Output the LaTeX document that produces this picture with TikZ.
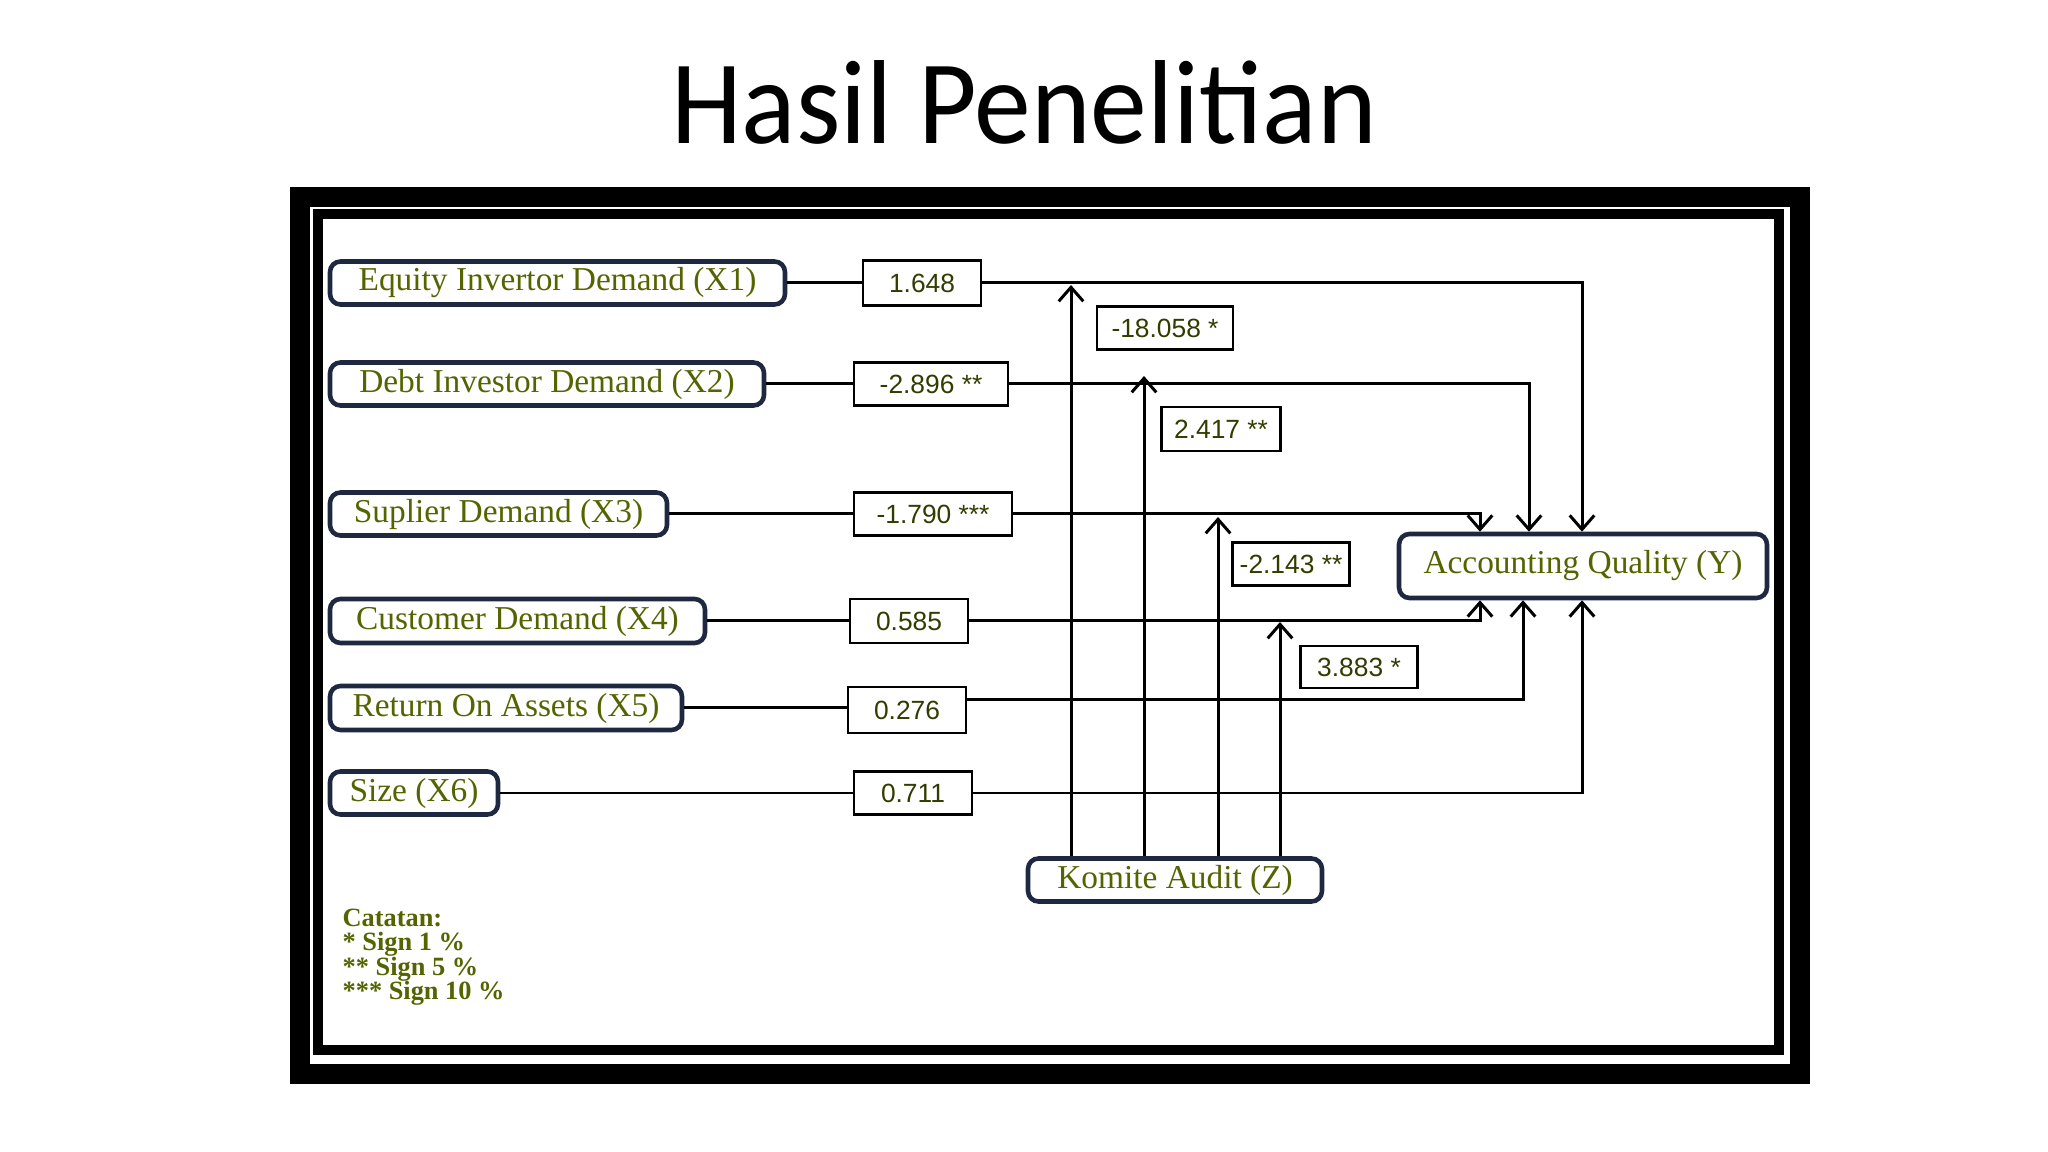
\documentclass[tikz,border=0pt]{standalone}
\usepackage{fontspec}
\setmainfont{Liberation Serif}
\newfontfamily\titlefont{Carlito}
\newfontfamily\numfont{Liberation Sans}
\usetikzlibrary{arrows.meta}
\definecolor{olive}{RGB}{85,100,0}
\definecolor{navy}{RGB}{30,40,65}
\begin{document}
\begin{tikzpicture}[x=0.1mm,y=-0.1mm,
  varbox/.style={draw=navy,line width=1.3pt,rounded corners=3pt,text=olive,font=\fontsize{9.5}{11}\selectfont,inner sep=0pt},
  valbox/.style={draw=black,line width=0.7pt,font=\numfont\fontsize{7.5}{9}\selectfont,text=olive!60!black,inner sep=0pt,fill=white},
  conn/.style={line width=0.85pt},
  arr/.style={line width=0.85pt,-{Straight Barb[length=4pt,width=7pt]}}]
\useasboundingbox (0,0) rectangle (2048,1152);
\fill[white] (0,0) rectangle (2048,1152);
\node[font=\titlefont\fontsize{34}{38}\selectfont,xscale=0.95] (title) at (1024,102) {Hasil Penelitian};
\draw[line width=5.69pt] (300,197) rectangle (1800,1074);
\draw[line width=2.8pt] (318,214) rectangle (1779,1050);
% variable nodes
\node[varbox,minimum width=45.5mm,minimum height=4.3mm] (x1) at (557.5,283) {Equity Invertor Demand (X1)};
\node[varbox,minimum width=43.4mm,minimum height=4.3mm] (x2) at (547,384) {Debt Investor Demand (X2)};
\node[varbox,minimum width=33.7mm,minimum height=4.3mm] (x3) at (498.5,514) {Suplier Demand (X3)};
\node[varbox,minimum width=37.5mm,minimum height=4.4mm] (x4) at (517.5,621) {Customer Demand (X4)};
\node[varbox,minimum width=35.2mm,minimum height=4.4mm] (x5) at (506,708) {Return On Assets (X5)};
\node[varbox,minimum width=16.8mm,minimum height=4.3mm] (x6) at (414,793) {Size (X6)};
\node[varbox,minimum width=36.8mm,minimum height=6.4mm] (y) at (1583,566) {Accounting Quality (Y)};
\node[varbox,minimum width=29.4mm,minimum height=4.3mm] (z) at (1175,880) {Komite Audit (Z)};
% value boxes
\node[valbox,minimum width=11.8mm,minimum height=4.5mm] (v1) at (922,283) {1.648};
\node[valbox,minimum width=13.6mm,minimum height=4.3mm] (m1) at (1165,328) {-18.058 *};
\node[valbox,minimum width=15.4mm,minimum height=4.3mm] (v2) at (931,384) {-2.896 **};
\node[valbox,minimum width=11.9mm,minimum height=4.4mm] (m2) at (1221,429) {2.417 **};
\node[valbox,minimum width=15.8mm,minimum height=4.3mm] (v3) at (933,514) {-1.790 ***};
\node[valbox,minimum width=11.7mm,minimum height=4.3mm] (m3) at (1291,564) {-2.143 **};
\node[valbox,minimum width=11.8mm,minimum height=4.4mm] (v4) at (909,621) {0.585};
\node[valbox,minimum width=11.7mm,minimum height=4.2mm] (m4) at (1359,667) {3.883 *};
\node[valbox,minimum width=11.8mm,minimum height=4.6mm] (v5) at (907,710) {0.276};
\node[valbox,minimum width=11.8mm,minimum height=4.3mm] (v6) at (913,793) {0.711};
% main paths
\draw[conn] (x1) -- (v1);
\draw[arr] (v1.east) -- (1582,283) -- (y.north -| 1582,0);
\draw[conn] (x2) -- (v2);
\draw[arr] (v2.east) -- (1529,384) -- (y.north -| 1529,0);
\draw[conn] (x3) -- (v3);
\draw[arr] (v3.east) -- (1480,514) -- (y.north -| 1480,0);
\draw[conn] (x4) -- (v4);
\draw[arr] (v4.east) -- (1480,621) -- (y.south -| 1480,0);
\draw[conn] (x5.east) -- (v5.west |- x5.east);
\draw[arr] (v5.east |- 0,700) -- (1523,700) -- (y.south -| 1523,0);
\draw[conn] (x6) -- (v6);
\draw[arr] (v6.east) -- (1582,793) -- (y.south -| 1582,0);
% moderation
\draw[arr] (z.north -| 1071,0) -- (1071,285);
\draw[arr] (z.north -| 1144,0) -- (1144,376);
\draw[arr] (z.north -| 1218,0) -- (1218,517);
\draw[arr] (z.north -| 1280,0) -- (1280,622);
% legend
\node[anchor=north west,align=left,text=olive,font=\bfseries\fontsize{7.5}{7}\selectfont,inner sep=0pt] (leg) at (342,908)
 {Catatan:\\* Sign 1 \%\\** Sign 5 \%\\*** Sign 10 \%};
\end{tikzpicture}
\end{document}
